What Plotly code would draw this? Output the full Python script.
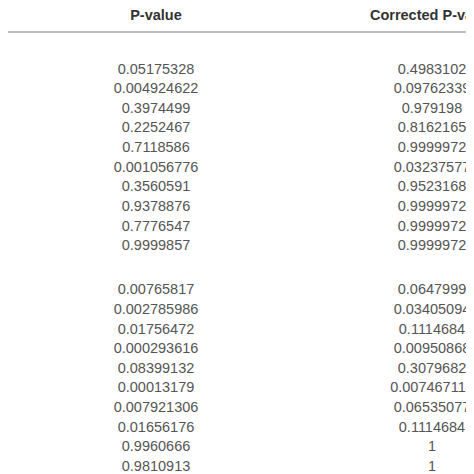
import plotly.graph_objects as go

headers = ['P-value', 'Corrected P-value']
p_group1 = ['0.05175328', '0.004924622', '0.3974499', '0.2252467', '0.7118586',
            '0.001056776', '0.3560591', '0.9378876', '0.7776547', '0.9999857']
cp_group1 = ['0.4983102', '0.09762339', '0.979198', '0.8162165', '0.9999972',
             '0.03237577', '0.9523168', '0.9999972', '0.9999972', '0.9999972']
p_group2 = ['0.00765817', '0.002785986', '0.01756472', '0.000293616', '0.08399132',
            '0.00013179', '0.007921306', '0.01656176', '0.9960666', '0.9810913']
cp_group2 = ['0.0647999', '0.03405094', '0.1114684', '0.00950868', '0.3079682',
             '0.007467114', '0.06535077', '0.1114684', '1', '1']

col_x = [148, 424]
rows1 = list(range(len(p_group1)))
rows2 = [10 + 1.25 + i for i in range(len(p_group2))]
ys = rows1 + rows2

fig = go.Figure()
for x, vals in zip(col_x, [p_group1 + p_group2, cp_group1 + cp_group2]):
    fig.add_trace(go.Scatter(
        x=[x] * len(vals), y=ys, mode='text', text=vals,
        textfont=dict(family='Liberation Sans, Arial', size=14.5, color='#555555'),
        hoverinfo='skip'))

fig.add_trace(go.Scatter(
    x=col_x, y=[-2.75, -2.75], mode='text',
    text=['<b>%s</b>' % h for h in headers],
    textfont=dict(family='Liberation Sans, Arial', size=14.5, color='#333333'),
    hoverinfo='skip'))

fig.add_shape(type='line', x0=0, x1=474, y0=-1.94, y1=-1.94,
              line=dict(color='#aaaaaa', width=1.5))

fig.update_layout(
    width=474, height=474, margin=dict(l=0, r=0, t=0, b=0),
    paper_bgcolor='white', plot_bgcolor='white', showlegend=False,
    xaxis=dict(range=[0, 474], visible=False),
    yaxis=dict(range=[21.0, -3.16], visible=False),
)

fig.write_html('out.html')
